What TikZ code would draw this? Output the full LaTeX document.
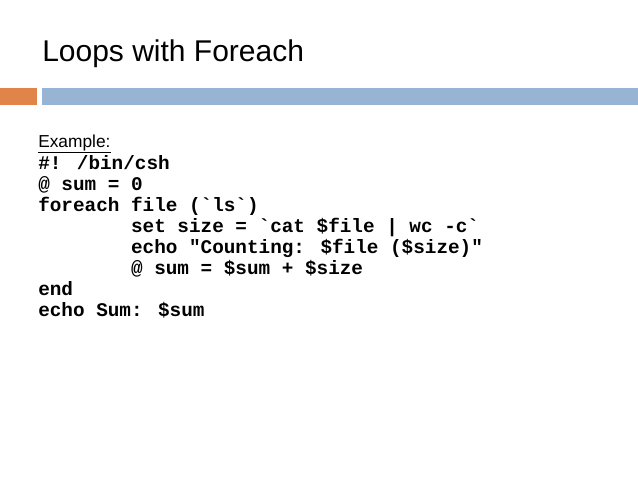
\documentclass[tikz,border=0pt]{standalone}
\usepackage{fontspec}
\setmainfont{Liberation Sans}
\newfontfamily\codefont{Liberation Mono}
\definecolor{orbar}{HTML}{E0844A}
\definecolor{blbar}{HTML}{98B4D4}
\begin{document}
\begin{tikzpicture}[x=0.75pt,y=-0.75pt,
  code/.style={anchor=base west,inner sep=0pt,font=\codefont\bfseries\fontsize{14.5}{17}\selectfont}]
\useasboundingbox (0,0) rectangle (638,478);
\node[anchor=base west,inner sep=0pt,font=\fontsize{22.5}{26}\selectfont] (title) at (42,62) {Loops with Foreach};
\fill[orbar] (0,88) rectangle (37,105);
\fill[blbar] (42,88) rectangle (638,105);
\node[anchor=base west,inner sep=0pt,font=\fontsize{13}{16}\selectfont] (ex) at (38,147) {\underline{Example:}};
\node[code] (l1) at (38,169) {\#! /bin/csh};
\node[code] (l2) at (38,190) {@ sum = 0};
\node[code] (l3) at (38,211) {foreach file (`ls`)};
\node[code] (l4) at (38,232) {\phantom{xxxxxxxx}set size = `cat \$file | wc -c`};
\node[code] (l5) at (38,253) {\phantom{xxxxxxxx}echo "Counting: \$file (\$size)"};
\node[code] (l6) at (38,274) {\phantom{xxxxxxxx}@ sum = \$sum + \$size};
\node[code] (l7) at (38,295) {end};
\node[code] (l8) at (38,316) {echo Sum: \$sum};
\end{tikzpicture}
\end{document}
